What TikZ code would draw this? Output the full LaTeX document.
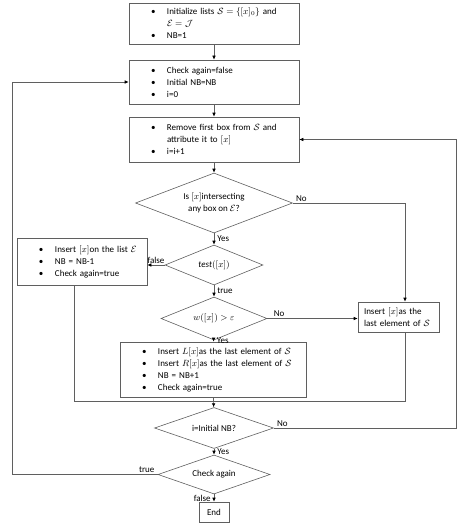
\documentclass[tikz,border=0pt]{standalone}
\usepackage{fontspec}
\setmainfont{Carlito}
\usepackage{amsmath, amssymb}
\usepackage{xcolor}
\usetikzlibrary{shapes.geometric, arrows.meta}

\definecolor{linecol}{RGB}{95,95,95}
\newcommand{\bl}[1]{\hspace*{16pt}\makebox[16pt][l]{\textbullet}#1}
\newcommand{\cn}[1]{\hspace*{32pt}#1}

\tikzset{
	procbox/.style={draw=linecol, line width=0.6pt, align=left, inner xsep=6pt, inner ysep=2pt, font=\fontsize{9}{12}\selectfont},
	decision/.style={draw=linecol, line width=0.6pt, diamond, inner sep=0pt, align=center, font=\fontsize{9}{12}\selectfont},
	flow/.style={draw=linecol, line width=0.6pt, -{Latex[length=4pt,width=3.5pt,color=black]}},
	plain/.style={draw=linecol, line width=0.6pt},
	lbl/.style={font=\fontsize{9}{11}\selectfont, inner xsep=3pt, inner ysep=1.5pt}
}

\begin{document}
\begin{tikzpicture}[x=1pt, y=-1pt]
		\useasboundingbox (0,0) rectangle (474,527);

		% main column
		\node [procbox, text width=158pt, minimum height=41pt] (init) at (214,23.5)
			{\bl{Initialize lists $\mathcal{S}=\{[x]_0\}$ and}\\ \cn{$\mathcal{E}=\mathcal{J}$}\\ \bl{NB=1}};
		\node [procbox, text width=158pt, minimum height=44pt] (reset) at (214,82)
			{\bl{Check again=false}\\ \bl{Initial NB=NB}\\ \bl{i=0}};
		\node [procbox, text width=158pt, minimum height=45pt] (pick) at (214,139.5)
			{\bl{Remove first box from $\mathcal{S}$ and}\\ \cn{attribute it to $[x]$}\\ \bl{i=i+1}};

		\node [decision, shape aspect=2.6, minimum width=157pt, minimum height=60pt] (dInter) at (214,203)
			{Is $[x]$intersecting\\ any box on $\mathcal{E}$?};
		\node [decision, shape aspect=2.4, minimum width=98pt, minimum height=40pt] (dTest) at (214,265)
			{$\mathit{test}([x])$};
		\node [decision, shape aspect=2.5, minimum width=106pt, minimum height=43pt] (dWidth) at (214,318.5)
			{$w([x]) > \varepsilon$};

		\node [procbox, text width=174pt, minimum height=55pt] (split) at (213,369.5)
			{\bl{Insert $L[x]$as the last element of $\mathcal{S}$}\\ \bl{Insert $R[x]$as the last element of $\mathcal{S}$}\\ \bl{NB = NB+1}\\ \bl{Check again=true}};

		\node [decision, shape aspect=2.9, minimum width=119pt, minimum height=41pt] (dLoop) at (214,428)
			{i=Initial NB?};
		\node [decision, shape aspect=2.9, minimum width=112pt, minimum height=39pt] (dCheck) at (214,474.5)
			{Check again};
		\node [procbox, align=center, minimum width=30pt, minimum height=20pt, inner xsep=2pt] (end) at (214,512) {End};

		% side boxes
		\node [procbox, text width=118pt, minimum height=47pt] (addE) at (82,261.5)
			{\bl{Insert $[x]$on the list $\mathcal{E}$}\\ \bl{NB = NB-1}\\ \bl{Check again=true}};
		\node [procbox, text width=69pt, minimum height=30pt] (keep) at (398.5,317)
			{Insert $[x]$as the\\ last element of $\mathcal{S}$};

		\coordinate (noX) at (405,203);
		\coordinate (joinL) at (74,401);
		\coordinate (joinR) at (405,401);
		\coordinate (leftRail) at (12,0);
		\coordinate (rightRail) at (456,0);

		% arrows
		\draw [flow] (init) -- (reset);
		\draw [flow] (reset) -- (pick);
		\draw [flow] (pick) -- (dInter);
		\draw [flow] (dInter) -- node [lbl, right] {Yes} (dTest);
		\draw [flow] (dTest) -- node [lbl, right] {true} (dWidth);
		\draw [flow] (dWidth) -- node [lbl, right, pos=0.4] {Yes} (split);
		\draw [flow] (split) -- (dLoop);
		\draw [flow] (dLoop) -- node [lbl, right] {Yes} (dCheck);
		\draw [flow] (dCheck) -- node [lbl, left] {false} (end);

		\draw [flow] (dTest.west) -- node [lbl, above] {false} (dTest.west -| addE.east);
		\draw [flow] (dWidth.east) -- node [lbl, above, pos=0.13] {No} (dWidth.east -| keep.west);
		\draw [flow] (dInter.east) node [lbl, above right] {No} -- (noX) -- (noX |- keep.north);

		\draw [plain] (addE.south -| joinL) -- (joinL) -- (joinR) -- (keep.south -| joinR);

		\draw [flow] (dLoop.east) node [lbl, above right] {No} -- (dLoop.east -| rightRail) -- (rightRail |- pick.east) -- (pick.east);
		\draw [flow] (dCheck.west) node [lbl, above left] {true} -- (dCheck.west -| leftRail) -- (leftRail |- reset.west) -- (reset.west);
	\end{tikzpicture}
\end{document}
